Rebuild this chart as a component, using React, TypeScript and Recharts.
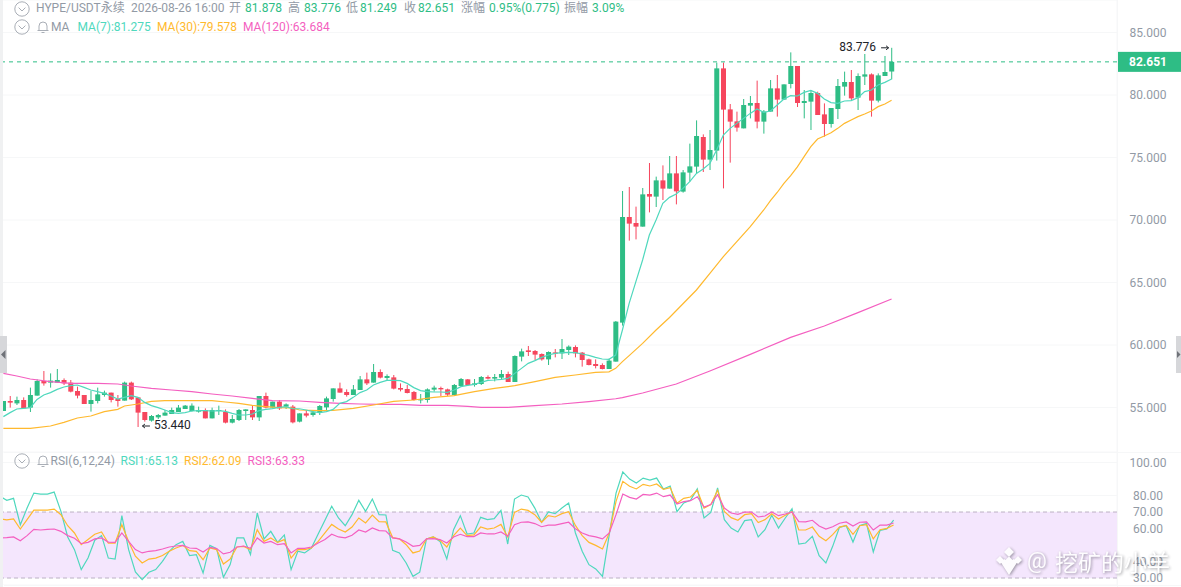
import React from "react";
import {
  ComposedChart,
  Bar,
  Line,
  XAxis,
  YAxis,
  CartesianGrid,
  ReferenceArea,
  ReferenceDot,
  ReferenceLine,
} from "recharts";

const opens = [
  54.72, 55.52, 55.33, 55.6, 54.99, 55.95, 57.12, 56.99, 56.99, 57.2,
  56.99, 56.32, 56.0, 55.28, 55.52, 56.0, 56.19, 55.68, 55.55, 56.99,
  55.81, 54.64, 53.95, 54.21, 54.35, 54.48, 54.64, 54.88, 54.72, 54.67,
  54.8, 54.13, 54.72, 54.64, 53.79, 54.0, 54.72, 54.8, 54.21, 55.92,
  54.99, 55.47, 55.07, 55.07, 53.87, 54.53, 54.4, 54.59, 55.01, 55.68,
  56.53, 56.24, 56.0, 56.4, 57.25, 56.99, 57.84, 57.36, 57.41, 56.56,
  56.48, 56.24, 55.57, 55.6, 56.43, 56.56, 56.45, 56.0, 56.72, 57.25,
  56.8, 56.88, 57.44, 57.31, 57.39, 57.68, 57.04, 59.07, 59.57, 59.52,
  59.28, 58.85, 59.41, 59.33, 59.6, 59.84, 59.39, 58.85, 58.48, 58.4,
  58.08, 58.67, 61.79, 70.24, 69.76, 69.47, 72.08, 71.87, 73.17, 72.51,
  73.73, 72.27, 73.79, 74.27, 76.64, 74.83, 75.55, 82.13, 78.85, 77.89,
  77.33, 79.15, 79.36, 77.87, 78.67, 80.53, 79.63, 80.88, 82.32, 79.36,
  79.47, 80.16, 78.45, 77.68, 78.88, 80.67, 81.04, 79.79, 81.47, 81.65,
  79.55, 81.52, 81.878,
];
const closes = [
  55.52, 55.39, 55.6, 54.93, 56.0, 57.12, 56.93, 57.15, 57.2, 56.93,
  56.27, 55.95, 55.28, 55.6, 56.05, 56.19, 55.6, 55.52, 56.99, 55.65,
  54.59, 54.0, 54.32, 54.4, 54.59, 54.8, 54.99, 55.15, 55.15, 54.8,
  54.13, 54.8, 54.8, 53.79, 54.08, 54.8, 54.85, 54.21, 55.92, 54.99,
  55.47, 54.93, 55.25, 53.81, 54.53, 54.35, 54.61, 55.12, 55.73, 56.53,
  56.19, 56.0, 56.45, 57.25, 56.93, 57.84, 57.39, 57.52, 56.51, 56.43,
  56.16, 55.6, 55.65, 56.45, 56.59, 56.45, 56.03, 56.8, 57.28, 56.8,
  56.93, 57.44, 57.31, 57.44, 57.68, 57.04, 59.12, 59.49, 59.44, 59.23,
  58.85, 59.44, 59.31, 59.68, 59.87, 59.33, 58.8, 58.4, 58.32, 58.08,
  58.75, 61.87, 70.24, 69.71, 69.47, 72.05, 71.87, 73.17, 72.51, 73.73,
  72.29, 73.81, 74.29, 76.72, 74.83, 75.6, 82.13, 78.83, 77.87, 77.39,
  79.2, 79.36, 77.87, 78.67, 80.53, 79.63, 80.85, 82.32, 79.36, 79.52,
  80.16, 78.4, 77.68, 78.96, 80.72, 81.04, 79.73, 81.52, 81.65, 79.55,
  81.57, 81.84, 82.651,
];
const highs = [
  55.52, 55.92, 55.87, 55.81, 56.59, 57.25, 57.92, 57.73, 58.08, 57.33,
  57.2, 56.67, 56.0, 56.35, 56.59, 56.35, 56.19, 56.0, 57.07, 57.07,
  55.81, 54.64, 54.4, 54.48, 54.8, 54.99, 55.2, 55.2, 55.33, 55.07,
  54.93, 54.99, 55.15, 54.85, 54.4, 54.88, 54.85, 55.2, 55.92, 56.19,
  55.47, 55.6, 55.33, 55.2, 54.53, 54.8, 54.8, 55.2, 55.87, 56.53,
  56.99, 56.45, 56.8, 57.52, 57.79, 58.48, 58.05, 57.65, 57.6, 56.93,
  56.8, 56.32, 56.08, 56.53, 56.75, 56.67, 56.51, 56.88, 57.36, 57.28,
  57.28, 57.52, 57.57, 57.68, 58.0, 57.87, 59.17, 59.71, 59.92, 59.6,
  59.33, 59.49, 59.68, 60.48, 59.97, 59.97, 59.44, 58.91, 58.85, 58.53,
  58.91, 61.92, 72.32, 72.64, 71.07, 72.56, 74.56, 73.47, 74.37, 75.12,
  75.12, 74.0, 76.11, 77.97, 76.85, 77.2, 82.59, 82.59, 79.28, 78.67,
  79.68, 79.92, 81.15, 78.8, 81.2, 81.6, 80.85, 83.41, 82.32, 80.4,
  80.4, 80.27, 79.33, 78.96, 81.28, 81.87, 82.0, 81.73, 83.28, 81.73,
  81.73, 83.12, 83.776,
];
const lows = [
  54.72, 54.99, 55.2, 54.93, 54.64, 55.95, 56.75, 56.59, 56.99, 56.8,
  56.21, 55.73, 55.28, 54.67, 55.33, 55.87, 55.41, 55.07, 55.55, 55.6,
  53.44, 53.87, 53.87, 54.08, 54.35, 54.48, 54.64, 54.88, 54.67, 54.59,
  54.13, 54.13, 54.4, 53.73, 53.73, 53.92, 54.0, 54.0, 53.92, 54.93,
  54.93, 54.8, 54.88, 53.73, 53.81, 54.21, 54.27, 54.4, 54.8, 55.47,
  56.19, 55.87, 56.0, 56.4, 56.8, 56.99, 57.33, 57.12, 56.45, 56.29,
  56.13, 55.55, 55.33, 55.39, 56.27, 55.92, 55.92, 56.0, 56.67, 56.75,
  56.67, 56.8, 57.25, 57.09, 57.25, 57.04, 57.04, 58.69, 59.12, 58.8,
  58.75, 58.4, 59.01, 58.88, 59.2, 59.01, 58.27, 58.37, 58.13, 58.05,
  58.08, 58.67, 61.55, 68.35, 68.45, 69.47, 70.61, 71.04, 71.6, 72.51,
  71.25, 72.19, 73.07, 73.73, 73.84, 74.0, 74.75, 72.53, 74.59, 77.07,
  77.33, 78.13, 77.33, 76.91, 78.67, 78.27, 79.63, 80.53, 79.04, 78.13,
  77.2, 78.4, 76.67, 77.39, 78.08, 79.95, 79.55, 78.8, 80.8, 78.27,
  79.41, 81.52, 81.249,
];

const ma7 = [
  54.27, 54.59, 54.88, 54.93, 54.99, 55.65, 56.0, 56.19, 56.45, 56.64,
  56.75, 56.8, 56.61, 56.4, 56.27, 56.13, 55.92, 55.68, 55.81, 55.95,
  55.81, 55.41, 55.15, 54.99, 54.8, 54.59, 54.53, 54.59, 54.72, 54.75,
  54.75, 54.72, 54.75, 54.69, 54.53, 54.4, 54.4, 54.48, 54.75, 54.85,
  54.91, 55.01, 55.07, 54.9, 54.9, 54.8, 54.67, 54.59, 54.67, 54.85,
  55.33, 55.47, 55.81, 56.19, 56.4, 56.8, 57.01, 57.17, 57.17, 57.15,
  56.93, 56.59, 56.35, 56.27, 56.24, 56.24, 56.21, 56.4, 56.67, 56.77,
  56.85, 57.01, 57.17, 57.2, 57.25, 57.33, 57.73, 58.13, 58.53, 58.75,
  59.01, 59.2, 59.33, 59.39, 59.41, 59.39, 59.28, 59.17, 59.01, 58.88,
  58.85, 59.2, 61.2, 63.33, 65.07, 66.8, 68.8, 70.0, 71.33, 71.81,
  72.08, 72.53, 73.07, 73.73, 74.08, 74.53, 75.6, 76.8, 77.33, 77.73,
  78.13, 78.53, 78.88, 78.61, 78.72, 79.2, 79.68, 79.95, 79.92, 80.21,
  80.37, 80.13, 79.68, 79.39, 79.33, 79.52, 79.55, 79.79, 80.27, 80.4,
  80.8, 81.01, 81.275,
];

// the two slower averages are smooth, so they are read at fewer candles: [candle, value]
const ma30Points = [
  [0, 53.33], [4, 53.33], [7, 53.52], [9, 53.81], [11, 54.16], [13, 54.32], [15, 54.67], [17, 54.85],
  [18, 55.12], [20, 55.28], [22, 55.49], [24, 55.55], [27, 55.55], [31, 55.55], [33, 55.44], [35, 55.33],
  [37, 55.17], [39, 55.07], [41, 54.99], [43, 54.96], [44, 54.8], [47, 54.75], [49, 54.77], [52, 54.93],
  [55, 55.2], [58, 55.49], [61, 55.6], [64, 55.81], [67, 55.95], [70, 56.27], [73, 56.53], [76, 56.75],
  [79, 57.07], [82, 57.41], [85, 57.6], [88, 57.81], [90, 57.85], [91, 58.13], [92, 58.67], [93, 59.15],
  [95, 60.13], [97, 61.2], [99, 62.2], [101, 63.3], [103, 64.4], [105, 65.73], [107, 67.07], [109, 68.27],
  [111, 69.47], [113, 70.8], [114, 71.55], [115, 72.2], [116, 72.93], [117, 73.55], [118, 74.25], [119, 75.07],
  [120, 75.87], [121, 76.48], [122, 76.72], [123, 76.98], [124, 77.33], [125, 77.73], [126, 78.0], [127, 78.27],
  [128, 78.48], [129, 78.72], [130, 79.07], [131, 79.28], [132, 79.578],
];
const ma120Points = [
  [0, 57.73], [2, 57.52], [4, 57.28], [7, 57.07], [10, 56.93], [14, 56.93], [17, 56.88], [19, 56.72],
  [22, 56.53], [25, 56.4], [28, 56.27], [31, 56.08], [34, 55.92], [37, 55.73], [40, 55.55], [44, 55.52],
  [47, 55.41], [50, 55.33], [53, 55.28], [56, 55.25], [59, 55.25], [62, 55.17], [66, 55.17], [69, 55.09],
  [71, 55.01], [75, 55.01], [79, 55.15], [83, 55.28], [87, 55.47], [91, 55.7], [92, 55.79], [95, 56.16],
  [100, 56.88], [105, 57.92], [111, 59.25], [117, 60.61], [122, 61.52], [127, 62.59], [132, 63.684],
];

const rsi1 = [
  79.5, 77.1, 78.3, 62.3, 72.4, 81.5, 80.9, 80.9, 82.1, 70.4,
  54.9, 47.2, 35.1, 42.1, 52.9, 55.7, 42.1, 41.5, 67.8, 47.2,
  33.7, 29.0, 33.5, 35.1, 40.1, 46.2, 50.2, 52.2, 43.6, 44.2,
  33.0, 49.8, 47.8, 30.4, 38.1, 54.3, 54.3, 44.2, 69.4, 53.7,
  58.3, 51.6, 56.1, 35.1, 46.2, 45.2, 48.2, 56.7, 65.0, 73.5,
  66.4, 61.7, 68.4, 77.1, 70.4, 77.9, 68.4, 68.2, 46.8, 45.2,
  39.1, 31.0, 33.5, 53.7, 54.9, 52.2, 41.5, 59.3, 67.8, 56.7,
  57.3, 66.8, 65.4, 66.0, 71.0, 50.6, 77.9, 80.3, 79.1, 72.4,
  63.8, 70.0, 69.0, 72.4, 75.5, 57.3, 46.2, 38.1, 35.5, 31.0,
  56.3, 81.5, 94.3, 90.0, 87.6, 90.6, 89.4, 90.6, 84.0, 85.8,
  70.2, 75.5, 77.1, 84.0, 66.4, 69.8, 84.6, 65.4, 60.3, 57.9,
  64.8, 65.4, 54.9, 59.3, 68.0, 60.3, 66.4, 72.0, 50.6, 51.2,
  55.3, 43.6, 39.1, 49.2, 60.7, 61.7, 51.8, 61.9, 63.0, 45.8,
  58.9, 59.7, 65.13,
];
const rsi2 = [
  65.8, 65.2, 65.8, 59.7, 65.4, 71.2, 71.2, 71.2, 71.8, 68.4,
  61.7, 57.3, 50.2, 53.3, 56.5, 57.9, 51.2, 51.2, 62.3, 52.2,
  43.2, 39.1, 41.5, 42.1, 43.6, 46.2, 48.2, 49.8, 46.6, 46.2,
  41.1, 48.2, 47.2, 38.5, 41.5, 48.8, 49.2, 47.2, 59.3, 52.2,
  54.3, 51.6, 53.3, 42.1, 47.2, 47.2, 48.2, 52.2, 57.3, 62.5,
  59.7, 57.9, 60.9, 66.4, 63.4, 68.2, 64.2, 64.0, 54.5, 53.7,
  50.2, 45.2, 46.4, 53.7, 54.9, 52.8, 48.8, 55.7, 60.3, 55.7,
  56.1, 60.9, 59.7, 60.3, 62.5, 54.9, 69.8, 71.8, 71.0, 68.4,
  63.8, 67.8, 67.0, 69.0, 70.2, 61.9, 55.7, 51.6, 49.8, 47.6,
  57.3, 76.5, 88.6, 85.6, 84.0, 86.8, 85.8, 87.0, 83.8, 84.8,
  75.3, 78.3, 79.1, 83.2, 72.4, 74.5, 83.2, 70.4, 66.6, 65.0,
  68.4, 69.0, 63.6, 65.4, 69.0, 65.8, 68.0, 70.2, 59.1, 59.1,
  60.9, 55.3, 52.6, 56.3, 60.9, 61.9, 56.5, 61.7, 62.3, 53.7,
  59.3, 60.1, 62.09,
];
const rsi3 = [
  54.3, 54.5, 54.9, 52.6, 55.7, 59.5, 59.1, 59.5, 59.7, 58.3,
  55.7, 54.1, 50.8, 51.6, 53.7, 54.3, 51.8, 51.6, 57.3, 52.2,
  47.2, 45.2, 46.2, 46.6, 47.6, 48.8, 49.4, 49.8, 48.2, 48.0,
  45.8, 48.6, 47.8, 44.6, 45.6, 48.8, 49.4, 48.0, 54.3, 51.2,
  52.2, 50.2, 50.8, 45.2, 48.0, 48.0, 48.8, 51.2, 53.3, 56.5,
  54.9, 54.3, 55.9, 59.1, 57.9, 60.3, 58.7, 58.5, 54.3, 53.7,
  51.8, 49.2, 49.8, 53.7, 53.9, 53.3, 51.2, 54.9, 56.5, 55.1,
  55.1, 57.3, 56.7, 56.7, 57.9, 55.3, 62.3, 63.8, 64.0, 63.0,
  61.1, 62.1, 62.1, 63.0, 63.8, 59.9, 57.3, 55.7, 54.9, 53.7,
  57.3, 68.4, 80.9, 78.9, 77.9, 80.7, 80.3, 81.5, 79.3, 80.3,
  74.9, 76.3, 76.9, 79.3, 73.0, 74.5, 80.5, 72.4, 69.4, 68.6,
  70.0, 70.0, 67.0, 67.6, 70.0, 67.8, 68.8, 70.0, 64.2, 64.0,
  65.0, 61.5, 59.7, 61.1, 63.2, 64.0, 61.5, 63.8, 64.0, 59.1,
  62.1, 62.1, 63.33,
];

const priceTicks = [55, 60, 65, 70, 75, 80, 85];
const rsiTicks = [30, 40, 60, 70, 80, 100];
const gridCandles = [14, 26, 38, 50, 62, 74, 86, 98, 110, 122, 134, 146, 158];
const lastPrice = 82.651;
const slotCount = 166; // room to the right of the last candle

const UP = "#2EBD85";
const DOWN = "#F6465D";
const MA7_COLOR = "#4fd8bd";
const MA30_COLOR = "#ffb92e";
const MA120_COLOR = "#f45fc0";
const GRID = "#f6f7f8";
const AXIS_TEXT = "#929AA5";
const FONT = "Roboto, 'Noto Sans CJK SC', sans-serif";

const slots = Array.from({ length: slotCount }, (_, i) => i);
const ma30ByCandle = new Map(ma30Points.map(([i, v]) => [i, v]));
const ma120ByCandle = new Map(ma120Points.map(([i, v]) => [i, v]));

const priceRows = slots.map((i) => ({
  i,
  open: opens[i],
  close: closes[i],
  range: i < opens.length ? [lows[i], highs[i]] : null,
  ma7: ma7[i],
  ma30: ma30ByCandle.get(i),
  ma120: ma120ByCandle.get(i),
}));
const rsiRows = slots.map((i) => ({ i, rsi1: rsi1[i], rsi2: rsi2[i], rsi3: rsi3[i] }));

function Candle(props: any) {
  const { x, y, width, height, payload } = props;
  if (!payload || !payload.range) return null;
  const [low, high] = payload.range;
  const perUnit = Math.abs(height) / (high - low || 1);
  const wickTop = Math.min(y, y + height);
  const bodyTop = wickTop + (high - Math.max(payload.open, payload.close)) * perUnit;
  const bodyH = Math.max(Math.abs(payload.close - payload.open) * perUnit, 1);
  const color = payload.close >= payload.open ? UP : DOWN;
  return (
    <g>
      <rect x={x + width / 2 - 0.5} y={wickTop} width={1} height={Math.abs(height)} fill={color} />
      <rect x={x} y={bodyTop} width={width} height={bodyH} fill={color} />
    </g>
  );
}

function PriceTag(props: any) {
  const vb = props.viewBox;
  if (!vb) return null;
  const left = vb.x + vb.width;
  return (
    <g>
      <rect x={left} y={vb.y - 10} width={64} height={20} fill={UP} />
      <text x={left + 31} y={vb.y + 4} textAnchor="middle" fill="#fff" fontSize={12} fontWeight={700} fontFamily={FONT}>
        {lastPrice.toFixed(3)}
      </text>
    </g>
  );
}

function HighMark({ cx, cy }: any) {
  return (
    <g>
      <text x={cx - 15.5} y={cy + 3} textAnchor="end" fill="#1E2329" fontSize={12} fontFamily={FONT}>
        83.776
      </text>
      <path d={`M${cx - 10.5} ${cy}H${cx - 3}M${cx - 5.5} ${cy - 2}L${cx - 3} ${cy}L${cx - 5.5} ${cy + 2}`} stroke="#1E2329" fill="none" />
    </g>
  );
}

function LowMark({ cx, cy }: any) {
  return (
    <g>
      <path d={`M${cx + 12} ${cy - 1}H${cx + 4.5}M${cx + 7} ${cy - 3}L${cx + 4.5} ${cy - 1}L${cx + 7} ${cy + 1}`} stroke="#1E2329" fill="none" />
      <text x={cx + 16} y={cy + 2} fill="#1E2329" fontSize={12} fontFamily={FONT}>
        53.440
      </text>
    </g>
  );
}

function Chevron({ x, y }: { x: number; y: number }) {
  return (
    <svg style={{ position: "absolute", left: x, top: y }} width={16} height={16} viewBox="0 0 16 16">
      <circle cx={8} cy={8} r={7.2} fill="none" stroke="#a9aeb6" strokeWidth={1} />
      <path d="M4.6 6.6 L8 10 L11.4 6.6" fill="none" stroke="#a9aeb6" strokeWidth={1} />
    </svg>
  );
}

function Bell({ x, y }: { x: number; y: number }) {
  return (
    <svg style={{ position: "absolute", left: x, top: y }} width={12} height={14} viewBox="0 0 12 14">
      <path d="M2 10 V6 a4 4 0 0 1 8 0 V10 M0.5 10.5 H11.5 M4.5 12.5 H7.5" fill="none" stroke="#a9aeb6" strokeWidth={1} />
    </svg>
  );
}

function Label({ x, y, color, size = 12, children }: any) {
  return (
    <span style={{ position: "absolute", left: x, top: y, color, fontSize: size, lineHeight: "14px", whiteSpace: "nowrap", fontFamily: FONT }}>
      {children}
    </span>
  );
}

function Watermark() {
  const shadow = "drop-shadow(1px 1px 1.5px rgba(60,60,70,0.55))";
  return (
    <div style={{ position: "absolute", left: 994, top: 545, width: 185, height: 34, opacity: 0.9 }}>
      <svg style={{ position: "absolute", left: 0, top: 1, filter: shadow }} width={30} height={30} viewBox="0 0 30 30">
        <path
          d="M15 1 L20 6 L15 11 L10 6 Z M6 10 L10 14 L6 18 L2 14 Z M24 10 L28 14 L24 18 L20 14 Z M15 10.5 L18.5 14 L15 17.5 L11.5 14 Z M15 17.5 L19.5 13 L23 16.5 L15 29 L7 16.5 L10.5 13 Z"
          fill="#fff"
        />
      </svg>
      <span style={{ position: "absolute", left: 33, top: 2, fontSize: 22, lineHeight: "28px", color: "#fff", fontFamily: FONT, filter: shadow }}>@</span>
      <span style={{ position: "absolute", left: 61, top: 1, fontSize: 23, lineHeight: "30px", color: "#fff", whiteSpace: "nowrap", fontFamily: "'Noto Sans CJK SC'", filter: shadow }}>
        挖矿的小羊
      </span>
    </div>
  );
}

const axisTick = { fill: AXIS_TEXT, fontSize: 12, fontFamily: FONT, textAnchor: "middle" };

export default function App() {
  return (
    <div style={{ position: "absolute", left: 0, top: 0, width: 1181, height: 587, overflow: "hidden", background: "#fff" }}>
      <div style={{ position: "absolute", left: 0, top: 0 }}>
        <ComposedChart width={1181} height={452} data={priceRows} margin={{ top: 0, right: 0, bottom: 0, left: 0 }}>
          <CartesianGrid stroke={GRID} strokeWidth={1} />
          <XAxis dataKey="i" type="category" ticks={gridCandles} interval={0} tick={false} tickLine={false} axisLine={false} height={0} />
          <YAxis
            orientation="right"
            width={64}
            domain={[51.44, 87.6]}
            allowDataOverflow
            ticks={priceTicks}
            interval={0}
            tickLine={false}
            axisLine={false}
            tickSize={0}
            tickMargin={31}
            tick={axisTick}
            tickFormatter={(v: number) => v.toFixed(3)}
          />
          <Bar dataKey="range" barSize={5} shape={<Candle />} isAnimationActive={false} />
          <Line dataKey="ma120" stroke={MA120_COLOR} strokeWidth={1.2} dot={false} connectNulls isAnimationActive={false} />
          <Line dataKey="ma30" stroke={MA30_COLOR} strokeWidth={1.2} dot={false} connectNulls isAnimationActive={false} />
          <Line dataKey="ma7" stroke={MA7_COLOR} strokeWidth={1.2} dot={false} isAnimationActive={false} />
          <ReferenceLine y={lastPrice} stroke={UP} strokeDasharray="4 4" label={<PriceTag />} />
          <ReferenceDot x={132} y={83.776} r={0} shape={<HighMark />} />
          <ReferenceDot x={20} y={53.44} r={0} shape={<LowMark />} />
        </ComposedChart>
      </div>

      <div style={{ position: "absolute", left: 0, top: 452 }}>
        <ComposedChart width={1181} height={133} data={rsiRows} margin={{ top: 0, right: 0, bottom: 0, left: 0 }}>
          <ReferenceArea y1={30} y2={70} fill="#f4e6fd" fillOpacity={1} stroke="none" />
          <CartesianGrid stroke={GRID} strokeWidth={1} />
          <XAxis dataKey="i" type="category" ticks={gridCandles} interval={0} tick={false} tickLine={false} axisLine={false} height={0} />
          <YAxis
            orientation="right"
            width={64}
            domain={[25.76, 106.4]}
            allowDataOverflow
            ticks={rsiTicks}
            interval={0}
            tickLine={false}
            axisLine={false}
            tickSize={0}
            tickMargin={31}
            tick={axisTick}
            tickFormatter={(v: number) => v.toFixed(2)}
          />
          <ReferenceLine y={70} stroke="#bdb3c6" strokeDasharray="4 3" />
          <ReferenceLine y={30} stroke="#bdb3c6" strokeDasharray="4 3" />
          <Line dataKey="rsi1" stroke={MA7_COLOR} strokeWidth={1.2} dot={false} isAnimationActive={false} />
          <Line dataKey="rsi2" stroke={MA30_COLOR} strokeWidth={1.2} dot={false} isAnimationActive={false} />
          <Line dataKey="rsi3" stroke={MA120_COLOR} strokeWidth={1.2} dot={false} isAnimationActive={false} />
        </ComposedChart>
      </div>

      <div style={{ position: "absolute", left: 4, top: 452, width: 1177, height: 1, background: GRID }} />
      <div style={{ position: "absolute", left: 4, top: 585, width: 1177, height: 1, background: GRID }} />
      <div style={{ position: "absolute", left: 1117, top: 0, width: 1, height: 587, background: GRID }} />

      <Chevron x={14} y={1} />
      <Label x={36} y={1} color={AXIS_TEXT}>HYPE/USDT永续</Label>
      <Label x={131} y={1} color={AXIS_TEXT}>2026-08-26 16:00</Label>
      <Label x={229} y={1} color={AXIS_TEXT}>开</Label>
      <Label x={245} y={1} color={UP}>81.878</Label>
      <Label x={288} y={1} color={AXIS_TEXT}>高</Label>
      <Label x={304} y={1} color={UP}>83.776</Label>
      <Label x={346} y={1} color={AXIS_TEXT}>低</Label>
      <Label x={360} y={1} color={UP}>81.249</Label>
      <Label x={404} y={1} color={AXIS_TEXT}>收</Label>
      <Label x={418} y={1} color={UP}>82.651</Label>
      <Label x={461} y={1} color={AXIS_TEXT}>涨幅</Label>
      <Label x={489} y={1} color={UP}>0.95%(0.775)</Label>
      <Label x={564} y={1} color={AXIS_TEXT}>振幅</Label>
      <Label x={592} y={1} color={UP}>3.09%</Label>

      <Chevron x={14} y={19} />
      <Bell x={37} y={20} />
      <Label x={51} y={20} color={AXIS_TEXT}>MA</Label>
      <Label x={77.5} y={20} color={MA7_COLOR}>MA(7):81.275</Label>
      <Label x={157} y={20} color={MA30_COLOR}>MA(30):79.578</Label>
      <Label x={243} y={20} color={MA120_COLOR}>MA(120):63.684</Label>

      <Chevron x={14} y={453} />
      <Bell x={37} y={454} />
      <Label x={50.5} y={454} color={AXIS_TEXT}>RSI(6,12,24)</Label>
      <Label x={120.5} y={454} color={MA7_COLOR}>RSI1:65.13</Label>
      <Label x={184} y={454} color={MA30_COLOR}>RSI2:62.09</Label>
      <Label x={247.5} y={454} color={MA120_COLOR}>RSI3:63.33</Label>

      <Watermark />

      <div style={{ position: "absolute", left: 0, top: 0, width: 3, height: 587, background: "#f0f1f2" }} />
      <div style={{ position: "absolute", left: 0, top: 336, width: 7, height: 37, background: "#d6d7da" }}>
        <svg width={7} height={37}>
          <path d="M1 18.5 L5.5 14 V23 Z" fill="#6f7278" />
        </svg>
      </div>
      <div style={{ position: "absolute", left: 1176, top: 336, width: 5, height: 37, background: "#d6d7da" }}>
        <svg width={5} height={37}>
          <path d="M4.5 18.5 L1 15 V22 Z" fill="#6f7278" />
        </svg>
      </div>
    </div>
  );
}
